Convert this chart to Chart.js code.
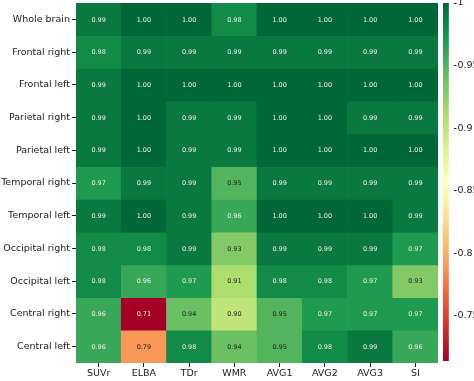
<!DOCTYPE html>
<html>
<head>
<meta charset="utf-8">
<script src="https://cdn.jsdelivr.net/npm/chart.js@4/dist/chart.umd.min.js"></script>
<style>
  html, body { margin: 0; padding: 0; background: #fff; }
  #wrap { position: relative; width: 474px; height: 381px; }
  canvas { position: absolute; left: 0; top: 0; }
</style>
</head>
<body>
<div id="wrap">
  <canvas id="heat" width="474" height="381"></canvas>
  <canvas id="cbar" width="474" height="381"></canvas>
</div>
<script>
// ---- data ----
const columnLabels = ['SUVr', 'ELBA', 'TDr', 'WMR', 'AVG1', 'AVG2', 'AVG3', 'SI'];
const rowLabels = ['Whole brain', 'Frontal right', 'Frontal left', 'Parietal right', 'Parietal left',
  'Temporal right', 'Temporal left', 'Occipital right', 'Occipital left', 'Central right', 'Central left'];
const wholeBrain     = [0.99, 1.00, 1.00, 0.98, 1.00, 1.00, 1.00, 1.00];
const frontalRight   = [0.98, 0.99, 0.99, 0.99, 0.99, 0.99, 0.99, 0.99];
const frontalLeft    = [0.99, 1.00, 1.00, 1.00, 1.00, 1.00, 1.00, 1.00];
const parietalRight  = [0.99, 1.00, 0.99, 0.99, 1.00, 1.00, 0.99, 0.99];
const parietalLeft   = [0.99, 1.00, 0.99, 0.99, 1.00, 1.00, 1.00, 1.00];
const temporalRight  = [0.97, 0.99, 0.99, 0.95, 0.99, 0.99, 0.99, 0.99];
const temporalLeft   = [0.99, 1.00, 0.99, 0.96, 1.00, 1.00, 1.00, 0.99];
const occipitalRight = [0.98, 0.98, 0.99, 0.93, 0.99, 0.99, 0.99, 0.97];
const occipitalLeft  = [0.98, 0.96, 0.97, 0.91, 0.98, 0.98, 0.97, 0.93];
const centralRight   = [0.96, 0.71, 0.94, 0.90, 0.95, 0.97, 0.97, 0.97];
const centralLeft    = [0.96, 0.79, 0.98, 0.94, 0.95, 0.98, 0.99, 0.96];
const rows = [wholeBrain, frontalRight, frontalLeft, parietalRight, parietalLeft, temporalRight,
  temporalLeft, occipitalRight, occipitalLeft, centralRight, centralLeft];
const colorbarTicks = [0.75, 0.8, 0.85, 0.9, 0.95, 1];
const vMin = 0.714, vMax = 1.0;

// ---- colormap (RdYlGn) ----
const rdylgn = ['#a50026','#d73027','#f46d43','#fdae61','#fee08b','#ffffbf','#d9ef8b','#a6d96a','#66bd63','#1a9850','#006837'];
function hex2rgb(h) { return [1,3,5].map(i => parseInt(h.substr(i,2),16)); }
function cmap(v) {
  let t = (v - vMin) / (vMax - vMin);
  t = Math.max(0, Math.min(1, t));
  const p = t * (rdylgn.length - 1);
  const i = Math.min(Math.floor(p), rdylgn.length - 2);
  const f = p - i;
  const a = hex2rgb(rdylgn[i]), b = hex2rgb(rdylgn[i+1]);
  const c = a.map((x, k) => Math.round(x + (b[k] - x) * f));
  return `rgb(${c[0]},${c[1]},${c[2]})`;
}

const FONT = "'DejaVu Sans', sans-serif";

const cellText = {
  id: 'cellText',
  afterDatasetsDraw(chart) {
    const ctx = chart.ctx;
    ctx.save();
    ctx.font = `6.5px ${FONT}`;
    ctx.textAlign = 'center';
    ctx.textBaseline = 'middle';
    rows.forEach((vals, r) => {
      chart.getDatasetMeta(r).data.forEach((el, c) => {
        const v = vals[c];
        const p = el.getCenterPoint();
        ctx.fillStyle = (v > 0.75 && v <= 0.95) ? '#1e1e1e' : '#eeeeee';
        ctx.fillText(v.toFixed(2), p.x, p.y + 0.5);
      });
    });
    ctx.restore();
  }
};

function noPad(s) { s.paddingTop = 0; s.paddingBottom = 0; s.paddingLeft = 0; s.paddingRight = 0; }

new Chart(document.getElementById('heat'), {
  type: 'bar',
  data: {
    labels: columnLabels,
    datasets: rows.map((vals, r) => ({
      data: vals.map(() => [r - 0.5, r + 0.5]),
      backgroundColor: vals.map(cmap),
      borderWidth: 0,
      grouped: false,
      barPercentage: 1,
      categoryPercentage: 1
    }))
  },
  options: {
    responsive: false,
    animation: false,
    layout: { padding: { top: 3, right: 36, left: 0, bottom: 0 } },
    plugins: { legend: { display: false }, tooltip: { enabled: false } },
    scales: {
      x: {
        type: 'category',
        offset: true,
        grid: { drawOnChartArea: false, offset: false, tickLength: 4, color: '#222', tickWidth: 1 },
        border: { display: false },
        ticks: { color: '#222', font: { family: FONT, size: 9.5 }, padding: 1, maxRotation: 0 },
        afterFit: s => { s.height = 18; noPad(s); }
      },
      y: {
        type: 'linear',
        reverse: true,
        min: -0.5,
        max: rowLabels.length - 0.5,
        afterBuildTicks: s => { s.ticks = rowLabels.map((_, i) => ({ value: i })); },
        grid: { drawOnChartArea: false, tickLength: 4, color: '#222', tickWidth: 1 },
        border: { display: false },
        ticks: { color: '#222', font: { family: FONT, size: 9.5 }, padding: 2,
          callback: v => rowLabels[v] },
        afterFit: s => { s.width = 76; noPad(s); }
      }
    }
  },
  plugins: [cellText]
});

// ---- colorbar ----
new Chart(document.getElementById('cbar'), {
  type: 'bar',
  data: {
    labels: ['cb'],
    datasets: [{
      data: [[vMin, vMax]],
      borderWidth: 0,
      barPercentage: 1,
      categoryPercentage: 1,
      backgroundColor: (ctx) => {
        const area = ctx.chart.chartArea;
        if (!area) return '#1a9850';
        const g = ctx.chart.ctx.createLinearGradient(0, area.bottom, 0, area.top);
        rdylgn.forEach((c, i) => g.addColorStop(i / (rdylgn.length - 1), c));
        return g;
      }
    }]
  },
  options: {
    responsive: false,
    animation: false,
    layout: { padding: { top: 3, right: 0, left: 443, bottom: 20 } },
    plugins: { legend: { display: false }, tooltip: { enabled: false } },
    scales: {
      x: { display: false, offset: false },
      y: {
        type: 'linear',
        position: 'right',
        min: vMin,
        max: vMax,
        afterBuildTicks: s => { s.ticks = colorbarTicks.map(v => ({ value: v })); },
        grid: { drawOnChartArea: false, tickLength: 2.5, color: '#222' },
        border: { display: false },
        ticks: { color: '#222', font: { family: FONT, size: 9.5 }, padding: 1,
          callback: v => String(+v.toFixed(2)) },
        afterFit: s => { s.width = 20; noPad(s); }
      }
    }
  }
});
</script>
</body>
</html>
